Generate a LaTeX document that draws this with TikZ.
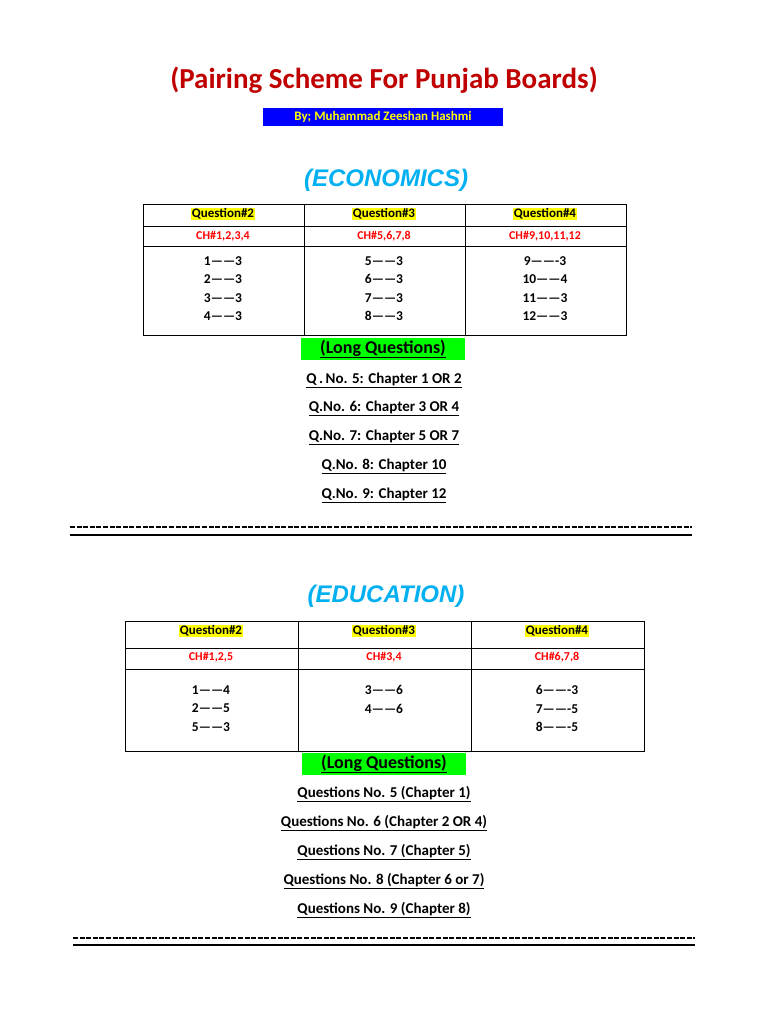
\documentclass[tikz,border=0pt]{standalone}
\usepackage{fontspec}
\setmainfont{Carlito}
\newfontfamily\arialf{Liberation Sans}
\newcommand\myul[1]{\underline{#1}}
\definecolor{tred}{RGB}{192,0,0}
\definecolor{sky}{RGB}{0,176,240}
\definecolor{hl}{RGB}{255,255,0}
\definecolor{gr}{RGB}{0,255,0}
\definecolor{cred}{RGB}{255,0,0}
\begin{document}
\begin{tikzpicture}[x=1pt,y=-1pt,
 hdr/.style={fill=hl,inner sep=1pt,font=\bfseries\fontsize{13}{15}\selectfont},
 ch/.style={text=cred,font=\bfseries\fontsize{12}{14}\selectfont},
 body/.style={align=center,font=\bfseries\fontsize{13.5}{18.5}\selectfont,anchor=north},
 sec/.style={text=sky,font=\arialf\bfseries\itshape\fontsize{24}{28}\selectfont},
 lq/.style={fill=gr,inner sep=0pt,minimum height=22pt,font=\bfseries\fontsize{18}{20}\selectfont},
 qline/.style={font=\bfseries\fontsize{15}{17}\selectfont},
 tgrid/.style={line width=0.8pt},
 dashline/.style={line width=1.6pt,dash pattern=on 5pt off 1.6pt},
 solidrule/.style={line width=1.2pt}]
\useasboundingbox[fill=white] (0,0) rectangle (768,1024);
\node[text=tred,font=\bfseries\fontsize{29}{32}\selectfont] (title) at (384,80) {(Pairing Scheme For Punjab Boards)};
\node[fill=blue,text=hl,minimum width=240pt,minimum height=18pt,inner sep=0pt,font=\bfseries\fontsize{13}{15}\selectfont] (by) at (383,117) {By; Muhammad Zeeshan Hashmi};
% Economics
\node[sec] (eco) at (386,180) {(ECONOMICS)};
\draw[tgrid] (143,204) rectangle (626,335);
\draw[tgrid] (143,226) -- (626,226) (143,246) -- (626,246) (304,204) -- (304,335) (465,204) -- (465,335);
\node[hdr] (e1) at (223,214) {Question\#2};
\node[hdr] (e2) at (384,214) {Question\#3};
\node[hdr] (e3) at (545,214) {Question\#4};
\node[ch] (c1) at (223,236) {CH\#1,2,3,4};
\node[ch] (c2) at (384,236) {CH\#5,6,7,8};
\node[ch] (c3) at (545,236) {CH\#9,10,11,12};
\node[body] (b1) at (223,253) {1------3\\2------3\\3------3\\4------3};
\node[body] (b2) at (384,253) {5------3\\6------3\\7------3\\8------3};
\node[body] (b3) at (545,253) {9-------3\\10------4\\11------3\\12------3};
\node[lq,minimum width=164pt] (lq1) at (383,349) {\myul{(Long Questions)}};
\node[qline] (q5) at (384,380) {\myul{Q\,.\,No. 5: Chapter 1 OR 2}};
\node[qline] (q6) at (384,408) {\myul{Q.No. 6: Chapter 3 OR 4}};
\node[qline] (q7) at (384,437) {\myul{Q.No. 7: Chapter 5 OR 7}};
\node[qline] (q8) at (384,466) {\myul{Q.No. 8: Chapter 10}};
\node[qline] (q9) at (384,495) {\myul{Q.No. 9: Chapter 12}};
\coordinate (d1a) at (70,527); \coordinate (d1b) at (692,527);
\coordinate (r1a) at (70,535); \coordinate (r1b) at (692,535);
\draw[dashline] (d1a) -- (d1b);
\draw[solidrule] (r1a) -- (r1b);
% Education
\node[sec] (edu) at (386,596) {(EDUCATION)};
\draw[tgrid] (125,621) rectangle (644,751);
\draw[tgrid] (125,648) -- (644,648) (125,669) -- (644,669) (298,621) -- (298,751) (471,621) -- (471,751);
\node[hdr] (f1) at (211,631) {Question\#2};
\node[hdr] (f2) at (384,631) {Question\#3};
\node[hdr] (f3) at (557,631) {Question\#4};
\node[ch] (g1) at (211,657) {CH\#1,2,5};
\node[ch] (g2) at (384,657) {CH\#3,4};
\node[ch] (g3) at (557,657) {CH\#6,7,8};
\node[body] (h1) at (211,682) {1------4\\2------5\\5------3};
\node[body] (h2) at (384,682) {3------6\\4------6};
\node[body] (h3) at (557,682) {6-------3\\7-------5\\8-------5};
\node[lq,minimum width=164pt] (lq2) at (384,764) {\myul{(Long Questions)}};
\node[qline] (p5) at (384,794) {\myul{Questions No. 5 (Chapter 1)}};
\node[qline] (p6) at (384,823) {\myul{Questions No. 6 (Chapter 2 OR 4)}};
\node[qline] (p7) at (384,852) {\myul{Questions No. 7 (Chapter 5)}};
\node[qline] (p8) at (384,881) {\myul{Questions No. 8 (Chapter 6 or 7)}};
\node[qline] (p9) at (384,910) {\myul{Questions No. 9 (Chapter 8)}};
\coordinate (d2a) at (73,938); \coordinate (d2b) at (695,938);
\coordinate (r2a) at (73,945); \coordinate (r2b) at (695,945);
\draw[dashline] (d2a) -- (d2b);
\draw[solidrule] (r2a) -- (r2b);
\end{tikzpicture}
\end{document}
